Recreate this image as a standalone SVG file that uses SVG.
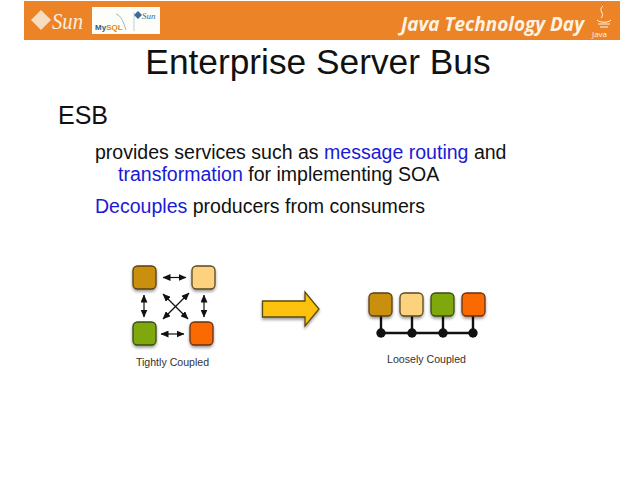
<svg xmlns="http://www.w3.org/2000/svg" width="638" height="478" viewBox="0 0 638 478">
<defs>
<filter id="sh" x="-30%" y="-30%" width="160%" height="160%"><feGaussianBlur in="SourceAlpha" stdDeviation="1.5"/><feOffset dy="2"/><feComponentTransfer><feFuncA type="linear" slope="0.4"/></feComponentTransfer><feMerge><feMergeNode/><feMergeNode in="SourceGraphic"/></feMerge></filter>
<marker id="ah" viewBox="0 0 8 7" refX="7.500" refY="3.500" markerWidth="8" markerHeight="7" markerUnits="userSpaceOnUse" orient="auto-start-reverse"><path d="M0 0L8 3.500L0 7Z" fill="#111"/></marker>
</defs>
<style>
text{font-family:"Liberation Sans",Arial,sans-serif}
.body{font-size:19.55px;fill:#111}
.blue{fill:#1a1ad6}
.cap{font-size:10.6px;fill:#333}
.box{stroke-width:1.3;filter:url(#sh)}
.dbl{stroke:#111;stroke-width:1.2;fill:none;marker-start:url(#ah);marker-end:url(#ah)}
.bus{stroke:#111;stroke-width:2.4;fill:none}
</style>
<rect width="638" height="478" fill="#fff"/>
<g id="header">
<rect x="24" y="1" width="596" height="39" fill="#ec8327"/>
<path d="M41 10L51 20L41 30L31 20Z" fill="#f6dcc0"/>
<text x="52" y="29" font-size="24" font-style="italic" fill="#fbeedd" style="font-family:'Liberation Serif',serif" textLength="31" lengthAdjust="spacingAndGlyphs">Sun</text>
<rect x="92" y="7" width="68" height="27" fill="#fdfdfa"/>
<text x="95" y="30" font-size="8" font-weight="bold" fill="#2a5a8a">My<tspan fill="#d98a20">SQL</tspan></text>
<path d="M116 14C122 16 124 24 126 30" stroke="#8aa0b8" stroke-width="0.8" fill="none"/>
<path d="M134 12V31" stroke="#b0b8c0" stroke-width="0.7"/>
<path d="M138 11L142 15L138 19L134 15Z" fill="#3a6a9a"/>
<text x="142" y="19" font-size="9" font-style="italic" fill="#3a6a9a" style="font-family:'Liberation Serif',serif">Sun</text>
<text x="401" y="31" font-size="19.5" font-weight="bold" font-style="italic" fill="#fdf3e4" style="font-family:'Open Sans',sans-serif" textLength="183" lengthAdjust="spacingAndGlyphs">Java Technology Day</text>
<path d="M603 6C597 11 606 13 601 18M597 20C600 23 608 23 611 20M598 24H610M600 27H608" stroke="#fdf3e4" stroke-width="1" fill="none"/>
<text x="592" y="37" font-size="8" fill="#fdf3e4" style="font-family:'Open Sans',sans-serif">Java</text>
</g>
<g id="title"><text x="318" y="74" font-size="35.3" text-anchor="middle" fill="#111">Enterprise Server Bus</text></g>
<g id="content">
<text x="58" y="124" font-size="25" fill="#111">ESB</text>
<text class="body" x="95" y="159">provides services such as <tspan class="blue">message routing</tspan> and</text>
<text class="body" x="118" y="181"><tspan class="blue">transformation</tspan> for implementing SOA</text>
<text class="body" x="95" y="213"><tspan class="blue">Decouples</tspan> producers from consumers</text>
</g>
<g id="connectors">
<path class="dbl" d="M163 277.500H186"/>
<path class="dbl" d="M161 334H184"/>
<path class="dbl" d="M144 295V317"/>
<path class="dbl" d="M204 295V317"/>
<path class="dbl" d="M163 294L188 319"/>
<path class="dbl" d="M189 293L163 319"/>
<path class="bus" d="M381 316V333M412 316V333M443 316V333M473 316V333M381 333H473"/>
<circle cx="381" cy="333" r="4.700" fill="#111"/><circle cx="412" cy="333" r="4.700" fill="#111"/><circle cx="443" cy="333" r="4.700" fill="#111"/><circle cx="473" cy="333" r="4.700" fill="#111"/>
</g>
<g id="tight-1"><rect class="box" x="133" y="266" width="23" height="23" rx="4.500" fill="#c98f0c" stroke="#5a4010"/></g>
<g id="tight-2"><rect class="box" x="192" y="266" width="23" height="23" rx="4.500" fill="#fdd27f" stroke="#5a4a20"/></g>
<g id="tight-3"><rect class="box" x="133" y="322" width="23" height="23" rx="4.500" fill="#7fa80f" stroke="#3a4c10"/></g>
<g id="tight-4"><rect class="box" x="190" y="322" width="23" height="23" rx="4.500" fill="#fb6a05" stroke="#6a3010"/></g>
<g id="tight-label"><text class="cap" x="172.500" y="366" text-anchor="middle">Tightly Coupled</text></g>
<g id="arrow"><path d="M262.500 301H305V292L319 309L305 326V317H262.500Z" fill="#fdc20e" stroke="#5a4a10" stroke-width="1.300" filter="url(#sh)"/></g>
<g id="loose-1"><rect class="box" x="369" y="293" width="23" height="23" rx="4.500" fill="#c98f0c" stroke="#5a4010"/></g>
<g id="loose-2"><rect class="box" x="400" y="293" width="23" height="23" rx="4.500" fill="#fdd27f" stroke="#5a4a20"/></g>
<g id="loose-3"><rect class="box" x="431" y="293" width="23" height="23" rx="4.500" fill="#7fa80f" stroke="#3a4c10"/></g>
<g id="loose-4"><rect class="box" x="462" y="293" width="23" height="23" rx="4.500" fill="#fb6a05" stroke="#6a3010"/></g>
<g id="loose-label"><text class="cap" x="426.500" y="363" text-anchor="middle">Loosely Coupled</text></g>
</svg>
